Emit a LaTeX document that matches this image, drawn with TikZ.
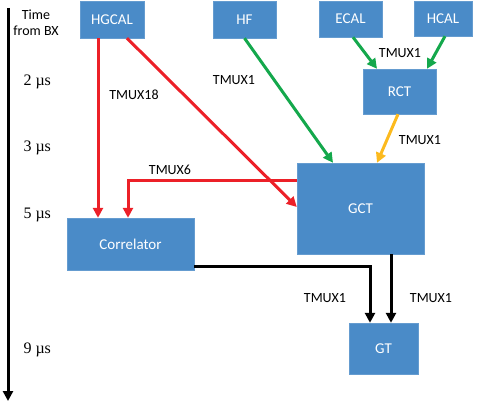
\documentclass[tikz,border=0pt]{standalone}
\usepackage{fontspec}
\setmainfont{Carlito}
\newfontfamily\timesfont{Liberation Serif}
\usepackage{tikz}
\usetikzlibrary{arrows.meta}

\definecolor{boxblue}{RGB}{74,139,200}
\definecolor{linkred}{RGB}{236,32,40}
\definecolor{linkgreen}{RGB}{20,168,76}
\definecolor{linkgold}{RGB}{252,186,30}

\begin{document}
\begin{tikzpicture}
  [x=1pt,y=-1pt,
   box/.style={fill=boxblue,draw=boxblue!85!white,text=white,font=\fontsize{15}{17}\selectfont,inner sep=0pt},
   tmux/.style={font=\fontsize{14}{16}\selectfont},
   tick/.style={anchor=west,font=\timesfont\fontsize{16}{18}\selectfont},
   link/.style={line width=3pt,-{Triangle[length=10pt,width=10pt]}}]
\useasboundingbox (0,0) rectangle (479,403);
% time axis
\coordinate (t0) at (8,8);
\coordinate (t1) at (8,401);
\draw[line width=3pt,-{Triangle[length=10pt,width=10pt]}] (t0) -- (t1);
\node[align=center,font=\fontsize{14}{16}\selectfont] (tlabel) at (36,23) {Time\\from BX};
\foreach \t/\y in {2/82,3/148,5/215,9/350}
  \node[tick] (t\t) at (20,\y) {\t~µs};
% boxes
\node[box,minimum width=64pt,minimum height=37pt] (hgcal) at (112,19.5) {HGCAL};
\node[box,minimum width=63pt,minimum height=37pt] (hf) at (244.5,19.5) {HF};
\node[box,minimum width=63pt,minimum height=36pt] (ecal) at (350.5,19) {ECAL};
\node[box,minimum width=58pt,minimum height=35pt] (hcal) at (443,18.5) {HCAL};
\node[box,minimum width=73pt,minimum height=45pt] (rct) at (399.5,91.5) {RCT};
\node[box,minimum width=127pt,minimum height=91pt] (gct) at (360.5,208.5) {GCT};
\node[box,minimum width=127pt,minimum height=52pt] (corr) at (130.5,244) {Correlator};
\node[box,minimum width=69pt,minimum height=51pt] (gt) at (383.5,348.5) {GT};
% links
\draw[link,linkred] ([xshift=-14pt]hgcal.south) -- ([xshift=-14pt]hgcal.south |- corr.north);
\draw[link,linkred] ([xshift=15pt]hgcal.south) -- ([yshift=1.5pt]gct.west);
\draw[link,linkred] ([yshift=27.5pt]gct.west) -| ([xshift=-2.5pt]corr.north);
\draw[link,linkgreen] (hf.south) -- ([xshift=-27.5pt]gct.north);
\draw[link,linkgreen] ([xshift=2.5pt]ecal.south) -- ([xshift=-22.5pt]rct.north);
\draw[link,linkgreen] ([xshift=2pt]hcal.south) -- ([xshift=27.5pt]rct.north);
\draw[link,linkgold] ([xshift=-1.5pt]rct.south) -- ([xshift=16.5pt]gct.north);
\draw[link,black] ([yshift=-23pt]corr.east) -| ([xshift=-13.5pt]gt.north);
\draw[link,black] ([xshift=7.5pt]gt.north |- gct.south) -- ([xshift=7.5pt]gt.north);
% labels
\node[tmux] (l18) at (134,95) {TMUX18};
\node[tmux] (lhf) at (234,80) {TMUX1};
\node[tmux] (lcal) at (400,53) {TMUX1};
\node[tmux] (lrct) at (420,140) {TMUX1};
\node[tmux] (l6) at (170,170) {TMUX6};
\node[tmux] (lcorr) at (325,298) {TMUX1};
\node[tmux] (lgct) at (431,298) {TMUX1};
\end{tikzpicture}
\end{document}
